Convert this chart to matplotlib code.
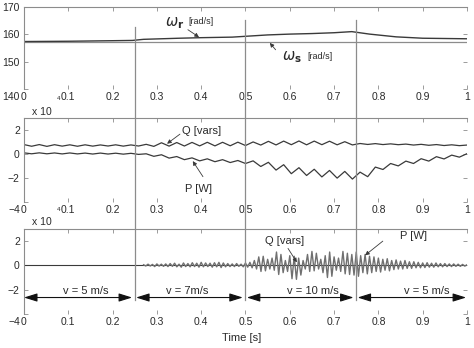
import matplotlib
matplotlib.use("Agg")
import matplotlib.pyplot as plt
import matplotlib.transforms as mtransforms
from matplotlib.lines import Line2D
import numpy as np

plt.rcParams['font.family'] = ['Liberation Sans', 'DejaVu Sans']

# rotor speed (rad/s) and synchronous speed
wr_t = [0, 0.1, 0.2, 0.245, 0.27, 0.35, 0.4, 0.47, 0.5, 0.55, 0.6, 0.65, 0.7,
        0.74, 0.78, 0.84, 0.9, 0.95, 1.0]
wr = [157.3, 157.4, 157.6, 157.7, 158.1, 158.5, 158.7, 158.9, 159.2, 159.7,
      160.0, 160.2, 160.5, 160.9, 160.0, 159.0, 158.5, 158.4, 158.3]
ws_t = [0, 1]
ws = [157.3, 157.3]

# stator powers (x 10^4), sampled at half the ripple period
pq_t = np.linspace(0, 1, 59)
p_stator = [0.09, 0.01, 0.09, 0.01, 0.08, 0.0, 0.08, 0.0, 0.07, -0.01,
            0.07, -0.01, 0.06, -0.02, 0.05, -0.04, 0.01, -0.2, -0.07, -0.35,
            -0.22, -0.48, -0.33, -0.58, -0.41, -0.65, -0.48, -0.72, -0.55, -0.8,
            -0.58, -1.05, -0.7, -1.35, -0.9, -1.65, -1.15, -1.8, -1.28, -1.92,
            -1.38, -2.02, -1.46, -2.1, -1.52, -1.9, -1.1, -1.3, -0.8, -1.0,
            -0.6, -0.8, -0.4, -0.6, -0.23, -0.42, -0.1, -0.27, 0.02]
q_stator = [0.78, 0.64, 0.78, 0.63, 0.77, 0.65, 0.76, 0.64, 0.76, 0.65,
            0.75, 0.66, 0.76, 0.65, 0.75, 0.66, 0.8, 0.63, 0.93, 0.65,
            0.95, 0.66, 0.96, 0.67, 0.97, 0.67, 0.97, 0.68, 0.98, 0.7,
            1.0, 0.74, 1.05, 0.75, 1.07, 0.77, 1.08, 0.76, 1.07, 0.77,
            1.06, 0.76, 1.02, 0.75, 0.87, 0.79, 0.86, 0.78, 0.84, 0.77,
            0.82, 0.74, 0.8, 0.72, 0.78, 0.7, 0.76, 0.69, 0.74]

# rotor-side powers (x 10^4)
rot_t = np.linspace(0.27, 1.0, 147)
rot_pq = [0.05, -0.05, 0.1, -0.05, 0.08, -0.1, 0.12, -0.06, 0.1, -0.08,
          0.12, -0.1, 0.15, -0.08, 0.18, -0.12, 0.1, -0.15, 0.2, -0.1,
          0.15, -0.12, 0.22, -0.1, 0.18, -0.15, 0.25, -0.12, 0.2, -0.1,
          0.18, -0.15, 0.22, -0.12, 0.25, -0.18, 0.2, -0.12, 0.15, -0.1,
          0.12, -0.1, 0.15, -0.08, 0.1, -0.12, 0.2, -0.15, 0.25, -0.2,
          0.4, -0.3, 0.7, -0.5, 0.75, -0.45, 0.5, -0.3, 0.6, -0.4,
          1.1, -0.75, 0.9, -0.6, 0.4, -0.5, 0.8, -1.1, 0.75, -1.15,
          0.6, -0.8, 0.4, -0.3, 0.9, -0.5, 1.15, -0.45, 1.0, -0.3,
          0.5, -0.6, 0.8, -1.0, 1.1, -0.9, 0.7, -0.4, 0.6, -0.5,
          1.15, -0.7, 1.0, -0.75, 0.9, -0.8, 1.1, -0.9, 0.8, -0.6,
          0.9, -0.7, 0.75, -0.6, 0.7, -0.5, 0.6, -0.55, 0.5, -0.4,
          0.55, -0.45, 0.4, -0.35, 0.45, -0.3, 0.35, -0.3, 0.4, -0.25,
          0.3, -0.25, 0.3, -0.2, 0.25, -0.2, 0.2, -0.18, 0.22, -0.15,
          0.18, -0.15, 0.2, -0.12, 0.15, -0.12, 0.15, -0.1, 0.12, -0.1,
          0.12, -0.08, 0.1, -0.08, 0.08, -0.06, 0.05]
zero_t = [0, 1]
zero_pq = [0, 0]

# wind speed steps
step_edges = [0.0, 0.25, 0.5, 0.75, 1.0]
step_labels = ['v = 5 m/s', 'v = 7m/s', 'v = 10 m/s', 'v = 5 m/s']
step_label_x = [0.14, 0.368, 0.652, 0.91]

xticks = [0, 0.1, 0.2, 0.3, 0.4, 0.5, 0.6, 0.7, 0.8, 0.9, 1.0]
xticklabels = ['0', '0.1', '0.2', '0.3', '0.4', '0.5', '0.6', '0.7', '0.8', '0.9', '1']

TXT = '#2a2a2a'
LN = '#3a3a3a'
GRID = '#8c8c8c'

fig = plt.figure(figsize=(4.74, 3.48), dpi=100)
left, width = 0.0506, 0.9346
ax1 = fig.add_axes([left, 0.744, width, 0.237])
ax2 = fig.add_axes([left, 0.420, width, 0.241])
ax3 = fig.add_axes([left, 0.098, width, 0.244])

# lowest y label drops down onto the x tick-label row
drop = mtransforms.ScaledTranslation(0, -7 / 100, fig.dpi_scale_trans)

for ax, ylim, yt in ((ax1, (140, 170), [140, 150, 160, 170]),
                     (ax2, (-4, 3), [-4, -2, 0, 2]),
                     (ax3, (-4, 3), [-4, -2, 0, 2])):
    ax.set_xlim(0, 1)
    ax.set_ylim(*ylim)
    ax.set_xticks(xticks)
    ax.set_xticklabels(xticklabels)
    ax.set_yticks(yt)
    ax.tick_params(direction='in', length=3, width=0.6, colors=GRID,
                   labelcolor=TXT, labelsize=7.5, top=True, right=True)
    ax.tick_params(axis='x', pad=2)
    ax.tick_params(axis='y', pad=3)
    for side in ('bottom', 'right'):
        ax.spines[side].set_visible(False)
    for side in ('top', 'left'):
        ax.spines[side].set_color(GRID)
        ax.spines[side].set_linewidth(0.8)
    ax.patch.set_alpha(0)
    lab = ax.get_yticklabels()[0]
    lab.set_transform(lab.get_transform() + drop)

# speeds
ax1.plot(ws_t, ws, color=GRID, lw=0.9)
ax1.plot(wr_t, wr, color=LN, lw=1.0)
ax1.text(0.318, 164.1, r'$\omega_{\mathbf{r}}$', fontsize=10.5, color=TXT, va='center')
ax1.text(0.37, 164.6, '[rad/s]', fontsize=6.5, color=TXT, va='center')
ax1.annotate('', xy=(0.395, 158.9), xytext=(0.37, 161.6),
             arrowprops=dict(arrowstyle='-|>', mutation_scale=6, lw=0.6, color=LN,
                             shrinkA=0, shrinkB=0))
ax1.text(0.583, 151.7, r'$\omega_{\mathbf{s}}$', fontsize=10.5, color=TXT, va='center')
ax1.text(0.64, 152.0, '[rad/s]', fontsize=6.5, color=TXT, va='center')
ax1.annotate('', xy=(0.555, 156.8), xytext=(0.568, 154.3),
             arrowprops=dict(arrowstyle='-|>', mutation_scale=6, lw=0.6, color=LN,
                             shrinkA=0, shrinkB=0))

# stator powers
ax2.plot(pq_t, q_stator, color=LN, lw=0.9)
ax2.plot(pq_t, p_stator, color=LN, lw=0.9)
ax2.text(0.357, 1.9, 'Q [vars]', fontsize=8, color=TXT, va='center')
ax2.annotate('', xy=(0.323, 0.85), xytext=(0.352, 1.65),
             arrowprops=dict(arrowstyle='-|>', mutation_scale=6, lw=0.6, color=LN,
                             shrinkA=0, shrinkB=0))
ax2.text(0.363, -2.9, 'P [W]', fontsize=8, color=TXT, va='center')
ax2.annotate('', xy=(0.381, -0.6), xytext=(0.404, -1.9),
             arrowprops=dict(arrowstyle='-|>', mutation_scale=6, lw=0.6, color=LN,
                             shrinkA=0, shrinkB=0))

# rotor powers and wind speed steps
ax3.plot(zero_t, zero_pq, color=LN, lw=0.8)
ax3.plot(rot_t, rot_pq, color='#707070', lw=1.0)
ax3.text(0.544, 1.98, 'Q [vars]', fontsize=8, color=TXT, va='center')
ax3.annotate('', xy=(0.616, 0.25), xytext=(0.596, 1.4),
             arrowprops=dict(arrowstyle='-|>', mutation_scale=6, lw=0.6, color=LN,
                             shrinkA=0, shrinkB=0))
ax3.text(0.849, 2.4, 'P [W]', fontsize=8, color=TXT, va='center')
ax3.annotate('', xy=(0.77, 0.83), xytext=(0.81, 2.0),
             arrowprops=dict(arrowstyle='-|>', mutation_scale=6, lw=0.6, color=LN,
                             shrinkA=0, shrinkB=0))
for i, lab in enumerate(step_labels):
    x0 = step_edges[i] + (0.0 if i == 0 else 0.003)
    x1 = step_edges[i + 1] - (0.006 if i < 3 else 0.002)
    ax3.annotate('', xy=(x1, -2.65), xytext=(x0, -2.65),
                 arrowprops=dict(arrowstyle='<|-|>,head_length=0.8,head_width=0.25',
                                 mutation_scale=10, lw=0.8, color='#111111',
                                 shrinkA=0, shrinkB=0))
    ax3.text(step_label_x[i], -2.15, lab, fontsize=8, color=TXT,
             ha='center', va='center')

# wind-step boundaries running through all panels
trans = mtransforms.blended_transform_factory(ax3.transData, fig.transFigure)
for x, ytop in zip(step_edges[1:4], [0.922, 0.943, 0.943]):
    fig.add_artist(Line2D([x, x], [0.138, ytop], transform=trans,
                          color=GRID, lw=0.9))

fig.text(0.0675, 0.678, 'x 10', fontsize=7.5, color=TXT, va='center')
fig.text(0.0675, 0.362, 'x 10', fontsize=7.5, color=TXT, va='center')
fig.text(0.120, 0.718, '4', fontsize=4.5, color=TXT, va='center')
fig.text(0.120, 0.399, '4', fontsize=4.5, color=TXT, va='center')
fig.text(0.51, 0.029, 'Time [s]', fontsize=8, color=TXT, ha='center', va='center')

fig.savefig('out.png', dpi=100)
